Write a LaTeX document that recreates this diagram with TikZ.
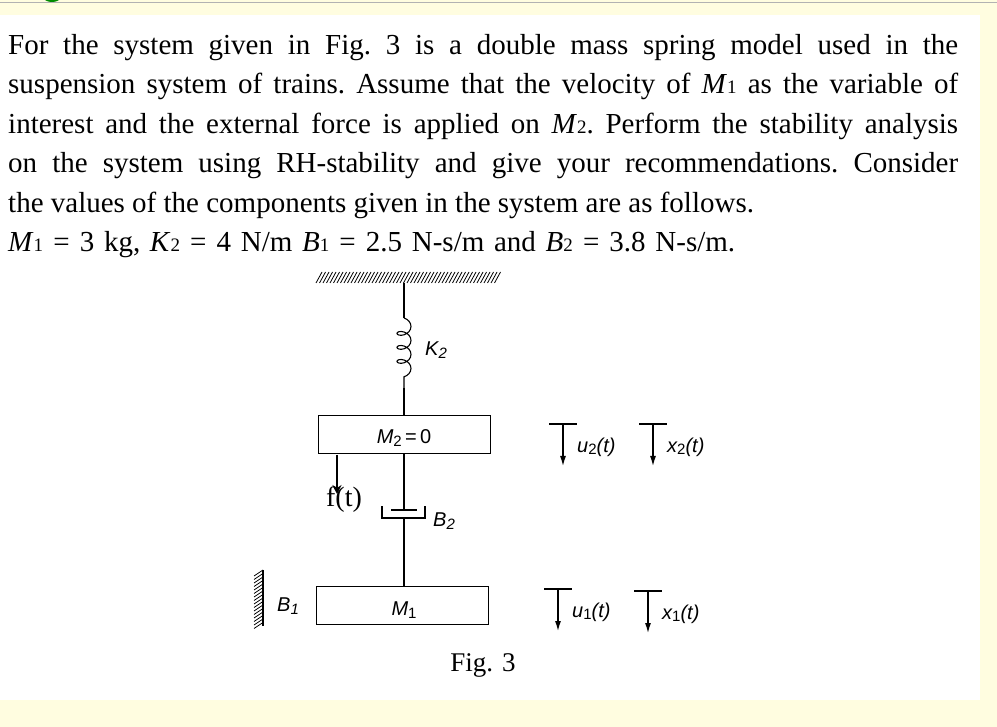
\documentclass[tikz,border=0pt]{standalone}
\usepackage{fontspec}
\setmainfont{Liberation Serif}
\newfontfamily\lsans{Liberation Sans}
\usetikzlibrary{decorations.pathmorphing,arrows.meta}
\newcommand{\sbs}[1]{{\fontsize{19}{19}\selectfont #1}}
\newcommand{\lsb}[1]{\raisebox{-0.25ex}{\fontsize{15}{15}\selectfont #1}}
\newcommand{\vi}[2]{\textit{#1}\sbs{#2}}
\newcommand{\eqs}{\hspace{0.35em}=\hspace{0.35em}}
\tikzset{
  txt/.style={anchor=base west,inner sep=0pt,font=\fontsize{29}{29}\selectfont\frenchspacing},
  lab/.style={inner sep=0pt,font=\lsans\fontsize{20}{20}\selectfont},
  ilab/.style={inner sep=0pt,font=\lsans\itshape\fontsize{20}{20}\selectfont},
  mass/.style={draw,line width=1pt,minimum width=172pt,minimum height=38pt,inner sep=0pt},
  ln/.style={line width=1.1pt},
  arr/.style={line width=1.2pt,-{Latex[length=10pt,width=6pt]}}
}
\begin{document}
\begin{tikzpicture}[x=1pt,y=-1pt]
\useasboundingbox (0,0) rectangle (997,727);
\fill[yellow!12] (0,0) rectangle (997,727);
\fill[white] (0,15) rectangle (980,700);
\draw[gray!60,line width=1pt] (0,3) -- (997,3);
\begin{scope}
\clip (0,0) rectangle (997,6);
\fill[green!55!black] (52,-12) circle (14);
\end{scope}
% text
\node[txt] (l1) at (8,55) {\makebox[950pt][s]{For the system given in Fig. 3 is a double mass spring model used in the}};
\node[txt] (l2) at (8,94) {\makebox[950pt][s]{suspension system of trains. Assume that the velocity of \vi{M}{1} as the variable of}};
\node[txt] (l3) at (8,134) {\makebox[950pt][s]{interest and the external force is applied on \vi{M}{2}. Perform the stability analysis}};
\node[txt] (l4) at (8,173) {\makebox[950pt][s]{on the system using RH-stability and give your recommendations. Consider}};
\node[txt] (l5) at (8,213) {the values of the components given in the system are as follows.};
\node[txt] (l6) at (8,252) {\makebox[727pt][s]{\vi{M}{1}\eqs 3 kg, \vi{K}{2}\eqs 4 N/m \vi{B}{1}\eqs 2.5 N-s/m and \vi{B}{2}\eqs 3.8 N-s/m.}};
% ceiling
\foreach \x in {316,319.5,...,496} \draw[line width=0.8pt] (\x,283) -- (\x+6,272);
\coordinate (top) at (404,283);
% masses
\node[mass] (m2) at (404,435) {};
\node[lab] at (404,438) {\textit{M}\lsb{2}\,=\,0};
\node[mass] (m1) at (402,605) {};
\node[lab] at (404,610) {\textit{M}\lsb{1}};
% spring
\coordinate (s1) at (404,318);
\coordinate (s2) at (404,388);
\draw[ln] (top) -- (s1);
\draw[ln,decorate,decoration={coil,aspect=0.7,amplitude=7pt,segment length=14pt}] (s1) -- (s2);
\draw[ln] (s2) -- (m2.north);
\node[ilab] at (436,350) {K\lsb{2}};
% damper
\coordinate (d1) at (404,510);
\coordinate (d2) at (404,518);
\draw[ln] (m2.south) -- (d1);
\draw[ln] (391,510) -- (417,510);
\draw[ln] (382,506) -- (382,518) -- (425,518) -- (425,506);
\draw[ln] (d2) -- (d2 |- m1.north);
\node[ilab] at (444,521) {B\lsb{2}};
% force
\coordinate (fa) at (337,455);
\coordinate (fb) at (337,494);
\draw[line width=1.4pt,-{Stealth[length=9pt,width=9pt]}] (fa) -- (fb);
\node[inner sep=0pt,font=\fontsize{28}{28}\selectfont] at (344,500) {f(t)};
% left wall
\draw[ln] (263,570) -- (263,626);
\foreach \y in {570,573.5,...,624} \draw[line width=0.8pt] (263,\y) -- (254,\y+6);
\node[ilab] at (288,606) {B\lsb{1}};
% displacement arrows
\foreach \xx/\yy/\v/\d in {563/424/u/2,653/424/x/2,558/589/u/1,648/591/x/1}{
  \draw[ln] (\xx-14,\yy) -- (\xx+14,\yy);
  \draw[arr] (\xx,\yy) -- (\xx,\yy+42);
  \node[ilab,anchor=west] at (\xx+14,\yy+23) {\v\lsb{\upshape\d}(t)};
}
\node[inner sep=0pt,font=\fontsize{27}{27}\selectfont] (fig) at (483,665) {Fig. 3};
\end{tikzpicture}
\end{document}
